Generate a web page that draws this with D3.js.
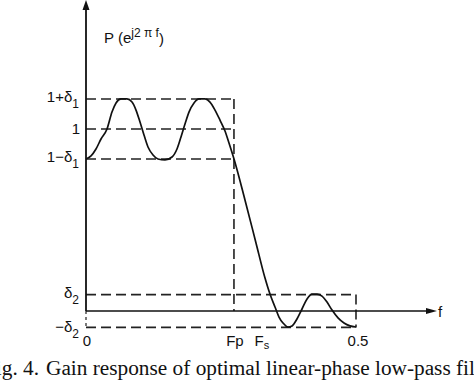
<!DOCTYPE html>
<html><head><meta charset="utf-8">
<script src="https://cdn.jsdelivr.net/npm/d3@7"></script>
<style>
body{margin:0;background:#fff;overflow:hidden}
svg{display:block}
.lbl{font-family:"Liberation Sans",Arial,sans-serif;font-size:15px;fill:#111}
.cap{font-family:"Liberation Serif","Times New Roman",serif;font-size:21.3px;fill:#111}
</style></head>
<body><svg id="c" width="474" height="381"></svg>
<script>
// ---- data ----
const delta1 = 0.165;
const delta2 = 0.09;
const Fp = 0.274;
const Fs = 0.333;
const fMax = 0.5;
const freq = [0,0.0093,0.0185,0.0278,0.0389,0.0481,0.0556,0.0648,0.0759,0.0852,0.0926,0.1,0.1074,0.1148,0.1241,0.1333,0.1463,0.1593,0.1685,0.1759,0.1833,0.1907,0.2,0.2093,0.2204,0.2296,0.2389,0.2481,0.2574,0.2648,0.2741,0.2944,0.3148,0.3315,0.3407,0.35,0.3574,0.3648,0.3741,0.3815,0.3907,0.4,0.4093,0.4185,0.4278,0.437,0.4463,0.4556,0.4667,0.4778,0.4889,0.5];
const gain = [0.835,0.852,0.89,0.945,1.0,1.093,1.143,1.165,1.165,1.148,1.104,1.038,0.967,0.901,0.857,0.835,0.83,0.846,0.89,0.956,1.027,1.093,1.143,1.165,1.165,1.148,1.104,1.049,0.989,0.923,0.835,0.61,0.374,0.181,0.093,0.022,-0.033,-0.066,-0.088,-0.082,-0.044,0.011,0.066,0.093,0.093,0.082,0.049,0.005,-0.038,-0.066,-0.082,-0.088];
const xTickVals = [0, Fp, Fs, fMax];
const xTickLabels = ["0", "Fp", "Fs", "0.5"];
const captionHead = "Fig. 4.";
const captionBody = "Gain response of optimal linear-phase low-pass filter";

// ---- chart ----
const svg = d3.select("#c");
const x = d3.scaleLinear().domain([0, 0.5]).range([86, 356]);
const y = d3.scaleLinear().domain([0, 1]).range([311, 129]);

const dash = "10,5";
const g = svg.append("g");

function dline(x1,y1,x2,y2){
  g.append("line").attr("x1",x1).attr("y1",y1).attr("x2",x2).attr("y2",y2)
   .attr("stroke","#222").attr("stroke-width",1.6).attr("stroke-dasharray",dash);
}
// passband box
[1+delta1, 1, 1-delta1].forEach(v => dline(x(0), y(v), x(Fp), y(v)));
dline(x(Fp), y(1+delta1), x(Fp), y(0));
// stopband box
dline(x(0), y(delta2), x(fMax), y(delta2));
dline(x(0), y(-delta2), x(fMax), y(-delta2));
dline(x(fMax), y(delta2), x(fMax), y(-delta2));
g.append("line").attr("x1",x(0)).attr("y1",y(0)).attr("x2",x(0)).attr("y2",y(-delta2))
  .attr("stroke","#222").attr("stroke-width",1.2).attr("stroke-dasharray","3,3");

// axes
svg.append("line").attr("x1",x(0)).attr("y1",y(0)).attr("x2",x(0)).attr("y2",8)
  .attr("stroke","#111").attr("stroke-width",1.8);
svg.append("path").attr("d",`M${x(0)-3.5},10 L${x(0)},0 L${x(0)+3.5},10 Z`).attr("fill","#111");
svg.append("line").attr("x1",x(0)).attr("y1",y(0)).attr("x2",428).attr("y2",y(0))
  .attr("stroke","#111").attr("stroke-width",1.5);
svg.append("path").attr("d",`M426,${y(0)-3} L437,${y(0)} L426,${y(0)+3} Z`).attr("fill","#111");

// curve
const pts = freq.map((f,i)=>[f,gain[i]]);
svg.append("path").datum(pts)
  .attr("d", d3.line().x(d=>x(d[0])).y(d=>y(d[1])).curve(d3.curveMonotoneX))
  .attr("fill","none").attr("stroke","#111").attr("stroke-width",1.7);

// y labels
function ylab(main, sub, v, dy){
  const t = svg.append("text").attr("class","lbl").attr("text-anchor","end")
    .attr("x",79).attr("y",y(v)+ (dy||5));
  t.append("tspan").text(main);
  t.append("tspan").attr("dy",6).attr("font-size","12px").text(sub);
}
ylab("1+δ", "1", 1+delta1, 3);
svg.append("text").attr("class","lbl").attr("text-anchor","end").attr("x",80).attr("y",y(1)+5).text("1");
ylab("1−δ", "1", 1-delta1, 3);
ylab("δ", "2", delta2, 3);
ylab("−δ", "2", -delta2, 0);

// x labels
svg.selectAll(".xl").data(xTickVals).join("text").attr("class","lbl")
  .attr("x",(d,i)=>x(d) + [1,1,-4,2][i]).attr("y",346).attr("text-anchor","middle")
  .each(function(d,i){
    const s = d3.select(this);
    const lab = xTickLabels[i];
    if (lab.length===2 && lab[0]==="F"){
      s.append("tspan").text("F");
      s.append("tspan").attr("dy", i===2?3:0).attr("font-size", i===2?"11px":"15px").text(lab[1]);
    } else s.text(lab);
  });
svg.append("text").attr("class","lbl").attr("x",438).attr("y",317).text("f");

// y axis title
const tt = svg.append("text").attr("class","lbl").attr("x",104).attr("y",43);
tt.append("tspan").text("P (e");
tt.append("tspan").attr("dy",-6).attr("font-size","12px").text("j2 π f");
tt.append("tspan").attr("dy",7).text(")");

// caption
svg.append("text").attr("class","cap").attr("x",39).attr("y",375).attr("text-anchor","end").text(captionHead);
svg.append("text").attr("class","cap").attr("x",46).attr("y",375).text(captionBody);
</script></body></html>
